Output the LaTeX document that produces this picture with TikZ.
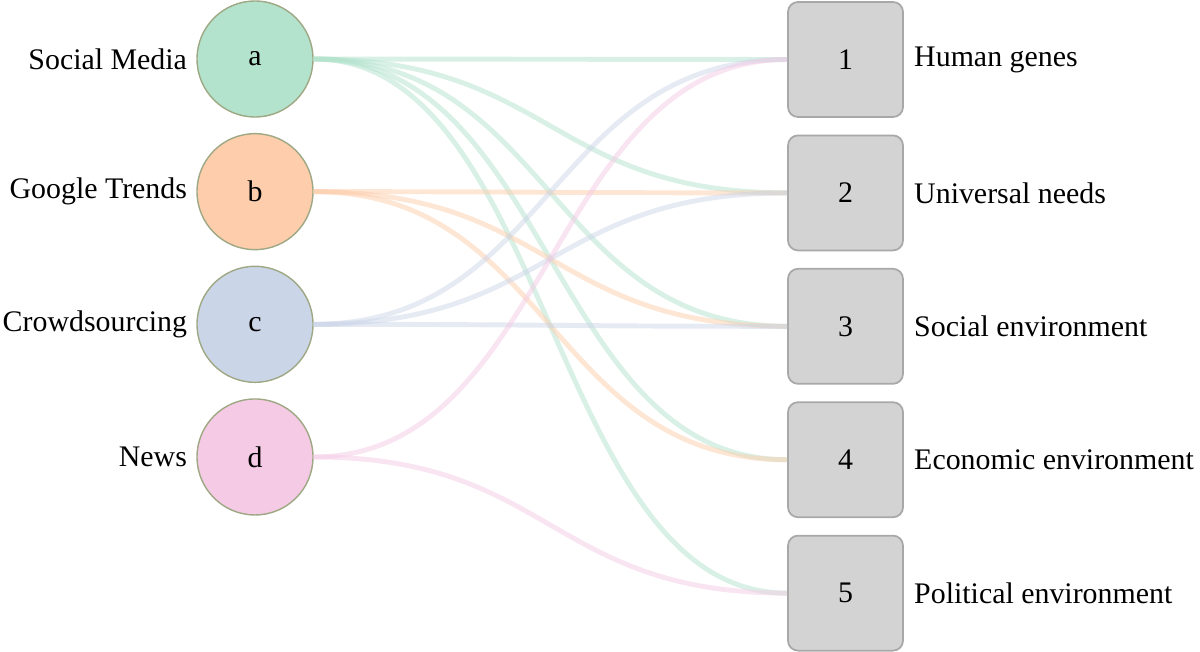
\documentclass[tikz,border=0pt]{standalone}
\usepackage{fontspec}
\setmainfont{Liberation Serif}
\usetikzlibrary{positioning}

\definecolor{smgreen}{HTML}{B3E2CD}
\definecolor{gtorange}{HTML}{FDCDAC}
\definecolor{csblue}{HTML}{CBD5E8}
\definecolor{newspink}{HTML}{F4CAE4}
\definecolor{rimcol}{RGB}{158,168,132}
\definecolor{boxgray}{RGB}{211,211,211}
\definecolor{boxrim}{RGB}{168,168,168}

\begin{document}
\begin{tikzpicture}[
  font=\fontsize{17}{20}\selectfont,
  src/.style={circle, draw=rimcol, line width=0.8pt, minimum size=23.2mm, inner sep=0pt},
  dim/.style={rectangle, rounded corners=2mm, draw=boxrim, fill=boxgray,
              line width=1pt, minimum size=23mm, inner sep=0pt},
  lab/.style={inner sep=0pt},
  flow/.style={line width=2.8pt, opacity=0.5,
               to path={.. controls +(4.75,0) and +(-4.75,0) .. (\tikztotarget)}}]
  \useasboundingbox (0,0) rectangle (24,-13.02);
  \node[src, fill=smgreen] (sm) at (5.1,-1.18) {a};
  \node[src, fill=gtorange, below=3.05mm of sm] (gt) {b};
  \node[src, fill=csblue, below=3.05mm of gt] (cs) {c};
  \node[src, fill=newspink, below=3.05mm of cs] (news) {d};
  \node[lab, left=1.8mm of sm] (smlab) {Social Media};
  \node[lab, left=1.8mm of gt] (gtlab) {Google Trends};
  \node[lab, left=1.8mm of cs] (cslab) {Crowdsourcing};
  \node[lab, left=1.8mm of news] (newslab) {News};
  \node[dim] (genes) at (16.91,-1.19) {1};
  \node[dim, below=3.33mm of genes] (needs) {2};
  \node[dim, below=3.33mm of needs] (social) {3};
  \node[dim, below=3.33mm of social] (econ) {4};
  \node[dim, below=3.33mm of econ] (polit) {5};
  \node[lab, right=2mm of genes] (geneslab) {Human genes};
  \node[lab, right=2mm of needs] (needslab) {Universal needs};
  \node[lab, right=2mm of social] (sociallab) {Social environment};
  \node[lab, right=2mm of econ] (econlab) {Economic environment};
  \node[lab, right=2mm of polit] (politlab) {Political environment};
  \draw[flow, smgreen] (sm.east) to (genes.west);
  \draw[flow, smgreen] (sm.east) to (needs.west);
  \draw[flow, smgreen] (sm.east) to (social.west);
  \draw[flow, smgreen] (sm.east) to (econ.west);
  \draw[flow, smgreen] (sm.east) to (polit.west);
  \draw[flow, gtorange] (gt.east) to (needs.west);
  \draw[flow, gtorange] (gt.east) to (social.west);
  \draw[flow, gtorange] (gt.east) to (econ.west);
  \draw[flow, csblue] (cs.east) to (genes.west);
  \draw[flow, csblue] (cs.east) to (needs.west);
  \draw[flow, csblue] (cs.east) to (social.west);
  \draw[flow, newspink] (news.east) to (genes.west);
  \draw[flow, newspink] (news.east) to (polit.west);
\end{tikzpicture}
\end{document}
